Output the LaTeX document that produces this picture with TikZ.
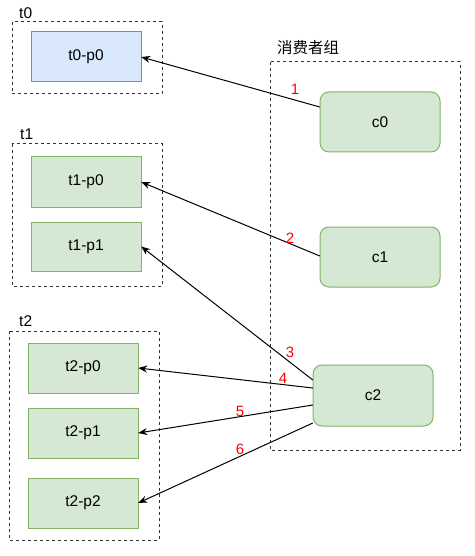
\documentclass[tikz,border=0pt]{standalone}
\usepackage{fontspec}
\setmainfont{Liberation Sans}
\newfontfamily\cjk{Noto Sans CJK SC}
\usetikzlibrary{arrows.meta}
\definecolor{gfill}{HTML}{D5E8D4}
\definecolor{gdraw}{HTML}{82B366}
\definecolor{bfill}{HTML}{DAE8FC}
\definecolor{bdraw}{HTML}{6C8EBF}
\definecolor{lab}{HTML}{FF0000}
\begin{document}
\begin{tikzpicture}[x=1pt,y=-1pt,
  grp/.style={draw=black!80,line width=1pt,dash pattern=on 3pt off 3pt},
  part/.style={draw=gdraw,fill=gfill,line width=1pt},
  bpart/.style={draw=bdraw,fill=bfill,line width=1pt},
  cons/.style={draw=gdraw,fill=gfill,line width=1pt,rounded corners=9pt},
  lbl/.style={inner sep=0pt,font=\fontsize{15.5}{18}\selectfont},
  conn/.style={draw=black,line width=1pt,-{Stealth[length=9pt,width=7pt,inset=3pt]}},
  num/.style={text=lab,font=\fontsize{15}{18}\selectfont,inner sep=0pt},
  ttl/.style={font=\fontsize{15.5}{18}\selectfont,inner sep=0pt,anchor=west}]
\useasboundingbox (0,0) rectangle (474,556);
\fill[white] (0,0) rectangle (474,556);
% group boxes
\draw[grp] (12,22) rectangle (162,94);
\draw[grp] (12,144) rectangle (162,286);
\draw[grp] (9,331) rectangle (159,540);
\draw[grp] (270,62) rectangle (460,450);
\node[ttl] (lt0) at (19,13) {t0};
\node[ttl] (lt1) at (20,134) {t1};
\node[ttl] (lt2) at (19,321) {t2};
\node[ttl] (lcg) at (277,48) {\cjk\fontsize{15.5}{18}\selectfont 消费者组};
% partitions
\path[bpart] (31,32) rectangle (141,82);
\node[lbl,minimum width=110pt,minimum height=50pt] (t0p0) at (86,57) {t0-p0};
\path[part] (31,157) rectangle (141,207);
\node[lbl,minimum width=110pt,minimum height=50pt] (t1p0) at (86,182) {t1-p0};
\path[part] (31,222) rectangle (141,271);
\node[lbl,minimum width=110pt,minimum height=49pt] (t1p1) at (86,246.5) {t1-p1};
\path[part] (28,343) rectangle (138,393);
\node[lbl,minimum width=110pt,minimum height=50pt] (t2p0) at (83,368) {t2-p0};
\path[part] (28,408) rectangle (138,458);
\node[lbl,minimum width=110pt,minimum height=50pt] (t2p1) at (83,433) {t2-p1};
\path[part] (28,478) rectangle (138,528);
\node[lbl,minimum width=110pt,minimum height=50pt] (t2p2) at (83,503) {t2-p2};
% consumers
\path[cons] (320,92) rectangle (440,152);
\node[lbl,minimum width=120pt,minimum height=60pt] (c0) at (380,122) {c0};
\path[cons] (320,227) rectangle (440,287);
\node[lbl,minimum width=120pt,minimum height=60pt] (c1) at (380,257) {c1};
\path[cons] (313,365) rectangle (433,426);
\node[lbl,minimum width=120pt,minimum height=61pt] (c2) at (373,395.5) {c2};
% connectors
\draw[conn] ([yshift=15pt]c0.west) -- (t0p0.east);
\draw[conn] ([yshift=1pt]c1.west) -- (t1p0.east);
\draw[conn] ([yshift=15.5pt]c2.west) -- (t1p1.east);
\draw[conn] ([yshift=7.5pt]c2.west) -- (t2p0.east);
\draw[conn] ([yshift=-9.5pt]c2.west) -- (t2p1.east);
\draw[conn] ([yshift=-27.5pt]c2.west) -- (t2p2.east);
% labels
\node[num] (n1) at (295,89) {1};
\node[num] (n2) at (290,238) {2};
\node[num] (n3) at (290,352) {3};
\node[num] (n4) at (283,378) {4};
\node[num] (n5) at (240,411) {5};
\node[num] (n6) at (240,449) {6};
\end{tikzpicture}
\end{document}
